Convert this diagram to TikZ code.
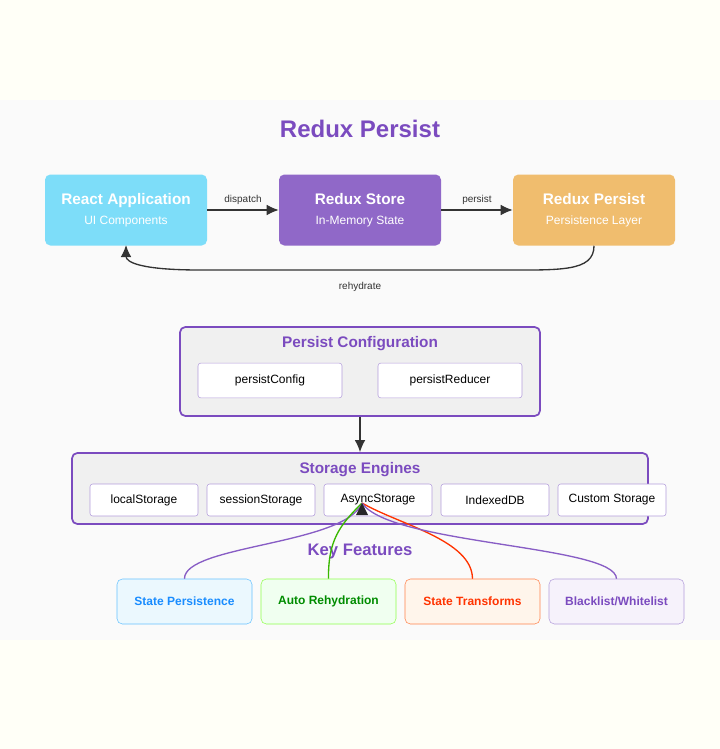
\documentclass[tikz,border=0pt]{standalone}
\usepackage{fontspec}
\setmainfont{Liberation Sans}
\usetikzlibrary{positioning,arrows.meta}
\definecolor{purp}{HTML}{7B4BBF}
\definecolor{reactc}{HTML}{7DDDF9}
\definecolor{storec}{HTML}{9068C8}
\definecolor{persc}{HTML}{F0BD6E}
\definecolor{lineb}{HTML}{B39DDB}
\tikzstyle{mainbox}=[rounded corners=4pt, minimum width=121.5pt, minimum height=53.25pt, text=white, align=center, font=\fontsize{11.5}{17}\selectfont]
\tikzstyle{groupbox}=[draw=purp, line width=1.3pt, fill=black!6, rounded corners=4pt]
\tikzstyle{engine}=[draw=lineb, fill=white, rounded corners=2pt, minimum width=81pt, minimum height=24pt, font=\fontsize{9}{11}\selectfont]
\tikzstyle{feature}=[rounded corners=4pt, minimum width=101.25pt, minimum height=33.75pt, font=\bfseries\fontsize{9}{11}\selectfont]
\tikzstyle{flow}=[line width=1pt, -{Latex[length=9pt,width=8pt]}, black!80]
\tikzstyle{lbl}=[font=\fontsize{7.5}{9}\selectfont, text=black!80]
\begin{document}
\begin{tikzpicture}[x=0.75pt, y=-0.75pt]
        \fill[white!97!yellow] (0,0) rectangle (720,749);
        \fill[black!2] (0,100) rectangle (720,640);
        \node[text=purp, font=\bfseries\fontsize{18}{22}\selectfont] (title) at (360,129) {Redux Persist};
        \node[mainbox, fill=reactc] (react) at (126,210) {\textbf{React Application}\\[-2pt]{\fontsize{9}{11}\selectfont UI Components}};
        \node[mainbox, fill=storec] (store) at (360,210) {\textbf{Redux Store}\\[-2pt]{\fontsize{9}{11}\selectfont In-Memory State}};
        \node[mainbox, fill=persc]  (persist) at (594,210) {\textbf{Redux Persist}\\[-2pt]{\fontsize{9}{11}\selectfont Persistence Layer}};
        \draw[flow] (react) -- node[lbl, above] {dispatch} (store);
        \draw[flow] (store) -- node[lbl, above] {persist} (persist);
        \coordinate (rb) at (126,245);
        \draw[flow] (persist.south) .. controls (594,272) and (560,270) .. (500,270) -- (200,270) .. controls (140,270) and (126,262) .. (rb);
        \node[lbl] (rehyd) at (360,287) {rehydrate};
        % configuration
        \node[groupbox, minimum width=270pt, minimum height=66.75pt] (config) at (360,371.5) {};
        \node[text=purp, font=\bfseries\fontsize{11.5}{14}\selectfont] (configt) at (360,344) {Persist Configuration};
        \node[engine, minimum width=108pt, minimum height=26pt] (pconf) at (270,380.5) {persistConfig};
        \node[engine, minimum width=108pt, minimum height=26pt] (pred) at (450,380.5) {persistReducer};
        % storage engines
        \node[groupbox, minimum width=432pt, minimum height=53.25pt] (engines) at (360,488.5) {};
        \node[text=purp, font=\bfseries\fontsize{11.5}{14}\selectfont] (enginest) at (360,470) {Storage Engines};
        \draw[flow] (config) -- (engines);
        \node[engine] (local) at (144,500) {localStorage};
        \node[engine] (session) at (261,500) {sessionStorage};
        \node[engine] (async) at (378,500) {AsyncStorage};
        \node[engine] (idb) at (495,500) {IndexedDB};
        \node[engine] (custom) at (612,500) {Custom Storage};
        % features
        \node[text=purp, font=\bfseries\fontsize{12.5}{15}\selectfont] (keyf) at (360,551) {Key Features};
        \node[feature, draw=blue!40!cyan!60, fill=cyan!8, text=blue!50!cyan!90] (f1) at (184.5,601.5) {State Persistence};
        \node[feature, draw=green!50!lime!70, fill=green!6, text=green!55!black] (f2) at (328.5,601.5) {Auto Rehydration};
        \node[feature, draw=orange!60!red!70, fill=orange!8, text=orange!40!red] (f3) at (472.5,601.5) {State Transforms};
        \node[feature, draw=lineb, fill=purp!7, text=purp] (f4) at (616.5,601.5) {Blacklist/Whitelist};
        \coordinate (tgt) at (362,503);
        \draw[line width=1pt, purp!90] (f1.north) .. controls (184,545) and (345,545) .. (tgt);
        \draw[line width=1pt, green!60!black!70!lime] (f2.north) .. controls (328,540) and (340,525) .. (tgt);
        \draw[line width=1pt, orange!40!red] (f3.north) .. controls (472,540) and (400,525) .. (tgt);
        \draw[line width=1pt, purp!90] (f4.north) .. controls (616,545) and (390,545) .. (tgt);
        \fill[black!85] (tgt) -- ++(-6,12) -- ++(12,0) -- cycle;
    \end{tikzpicture}
\end{document}
